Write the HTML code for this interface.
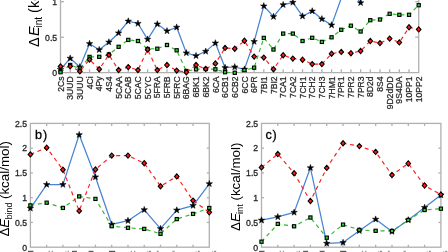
<!DOCTYPE html>
<html><head><meta charset="utf-8"><title>figure</title>
<style>html,body{margin:0;padding:0;background:#fff;}body{width:448px;height:252px;overflow:hidden;}svg{display:block;filter:blur(0.3px);}</style>
</head><body>
<svg width="448" height="252" viewBox="0 0 448 252">
<defs><clipPath id="ca"><rect x="60.50" y="-100" width="358.20" height="172.70"/></clipPath><clipPath id="cb"><rect x="30.40" y="123.40" width="178.90" height="123.80"/></clipPath><clipPath id="cc"><rect x="261.50" y="123.40" width="179.40" height="123.80"/></clipPath></defs>
<rect width="448" height="252" fill="#fff"/>
<g stroke="#b0b0b0" stroke-width="1.3" fill="none">
<line x1="60.50" y1="-5" x2="60.50" y2="72.70"/>
<line x1="418.70" y1="-5" x2="418.70" y2="72.70"/>
<line x1="60.00" y1="72.70" x2="419.20" y2="72.70"/>
<line x1="70.18" y1="72.70" x2="70.18" y2="69.20"/>
<line x1="79.86" y1="72.70" x2="79.86" y2="69.20"/>
<line x1="89.54" y1="72.70" x2="89.54" y2="69.20"/>
<line x1="99.22" y1="72.70" x2="99.22" y2="69.20"/>
<line x1="108.91" y1="72.70" x2="108.91" y2="69.20"/>
<line x1="118.59" y1="72.70" x2="118.59" y2="69.20"/>
<line x1="128.27" y1="72.70" x2="128.27" y2="69.20"/>
<line x1="137.95" y1="72.70" x2="137.95" y2="69.20"/>
<line x1="147.63" y1="72.70" x2="147.63" y2="69.20"/>
<line x1="157.31" y1="72.70" x2="157.31" y2="69.20"/>
<line x1="166.99" y1="72.70" x2="166.99" y2="69.20"/>
<line x1="176.67" y1="72.70" x2="176.67" y2="69.20"/>
<line x1="186.35" y1="72.70" x2="186.35" y2="69.20"/>
<line x1="196.04" y1="72.70" x2="196.04" y2="69.20"/>
<line x1="205.72" y1="72.70" x2="205.72" y2="69.20"/>
<line x1="215.40" y1="72.70" x2="215.40" y2="69.20"/>
<line x1="225.08" y1="72.70" x2="225.08" y2="69.20"/>
<line x1="234.76" y1="72.70" x2="234.76" y2="69.20"/>
<line x1="244.44" y1="72.70" x2="244.44" y2="69.20"/>
<line x1="254.12" y1="72.70" x2="254.12" y2="69.20"/>
<line x1="263.80" y1="72.70" x2="263.80" y2="69.20"/>
<line x1="273.48" y1="72.70" x2="273.48" y2="69.20"/>
<line x1="283.16" y1="72.70" x2="283.16" y2="69.20"/>
<line x1="292.85" y1="72.70" x2="292.85" y2="69.20"/>
<line x1="302.53" y1="72.70" x2="302.53" y2="69.20"/>
<line x1="312.21" y1="72.70" x2="312.21" y2="69.20"/>
<line x1="321.89" y1="72.70" x2="321.89" y2="69.20"/>
<line x1="331.57" y1="72.70" x2="331.57" y2="69.20"/>
<line x1="341.25" y1="72.70" x2="341.25" y2="69.20"/>
<line x1="350.93" y1="72.70" x2="350.93" y2="69.20"/>
<line x1="360.61" y1="72.70" x2="360.61" y2="69.20"/>
<line x1="370.29" y1="72.70" x2="370.29" y2="69.20"/>
<line x1="379.98" y1="72.70" x2="379.98" y2="69.20"/>
<line x1="389.66" y1="72.70" x2="389.66" y2="69.20"/>
<line x1="399.34" y1="72.70" x2="399.34" y2="69.20"/>
<line x1="409.02" y1="72.70" x2="409.02" y2="69.20"/>
<line x1="60.50" y1="37.20" x2="64.00" y2="37.20"/>
<line x1="418.70" y1="37.20" x2="415.20" y2="37.20"/>
<line x1="60.50" y1="1.70" x2="64.00" y2="1.70"/>
<line x1="418.70" y1="1.70" x2="415.20" y2="1.70"/>
</g>
<g stroke="#b0b0b0" stroke-width="1.3" fill="none">
<rect x="30.40" y="123.40" width="178.90" height="123.80"/>
<line x1="46.66" y1="247.20" x2="46.66" y2="244.70"/>
<line x1="46.66" y1="123.40" x2="46.66" y2="125.90"/>
<line x1="62.93" y1="247.20" x2="62.93" y2="244.70"/>
<line x1="62.93" y1="123.40" x2="62.93" y2="125.90"/>
<line x1="79.19" y1="247.20" x2="79.19" y2="244.70"/>
<line x1="79.19" y1="123.40" x2="79.19" y2="125.90"/>
<line x1="95.45" y1="247.20" x2="95.45" y2="244.70"/>
<line x1="95.45" y1="123.40" x2="95.45" y2="125.90"/>
<line x1="111.72" y1="247.20" x2="111.72" y2="244.70"/>
<line x1="111.72" y1="123.40" x2="111.72" y2="125.90"/>
<line x1="127.98" y1="247.20" x2="127.98" y2="244.70"/>
<line x1="127.98" y1="123.40" x2="127.98" y2="125.90"/>
<line x1="144.25" y1="247.20" x2="144.25" y2="244.70"/>
<line x1="144.25" y1="123.40" x2="144.25" y2="125.90"/>
<line x1="160.51" y1="247.20" x2="160.51" y2="244.70"/>
<line x1="160.51" y1="123.40" x2="160.51" y2="125.90"/>
<line x1="176.77" y1="247.20" x2="176.77" y2="244.70"/>
<line x1="176.77" y1="123.40" x2="176.77" y2="125.90"/>
<line x1="193.04" y1="247.20" x2="193.04" y2="244.70"/>
<line x1="193.04" y1="123.40" x2="193.04" y2="125.90"/>
<line x1="30.40" y1="222.44" x2="32.90" y2="222.44"/>
<line x1="209.30" y1="222.44" x2="206.80" y2="222.44"/>
<line x1="30.40" y1="197.68" x2="32.90" y2="197.68"/>
<line x1="209.30" y1="197.68" x2="206.80" y2="197.68"/>
<line x1="30.40" y1="172.92" x2="32.90" y2="172.92"/>
<line x1="209.30" y1="172.92" x2="206.80" y2="172.92"/>
<line x1="30.40" y1="148.16" x2="32.90" y2="148.16"/>
<line x1="209.30" y1="148.16" x2="206.80" y2="148.16"/>
</g>
<g stroke="#b0b0b0" stroke-width="1.3" fill="none">
<rect x="261.50" y="123.40" width="179.40" height="123.80"/>
<line x1="277.81" y1="247.20" x2="277.81" y2="244.70"/>
<line x1="277.81" y1="123.40" x2="277.81" y2="125.90"/>
<line x1="294.12" y1="247.20" x2="294.12" y2="244.70"/>
<line x1="294.12" y1="123.40" x2="294.12" y2="125.90"/>
<line x1="310.43" y1="247.20" x2="310.43" y2="244.70"/>
<line x1="310.43" y1="123.40" x2="310.43" y2="125.90"/>
<line x1="326.74" y1="247.20" x2="326.74" y2="244.70"/>
<line x1="326.74" y1="123.40" x2="326.74" y2="125.90"/>
<line x1="343.05" y1="247.20" x2="343.05" y2="244.70"/>
<line x1="343.05" y1="123.40" x2="343.05" y2="125.90"/>
<line x1="359.35" y1="247.20" x2="359.35" y2="244.70"/>
<line x1="359.35" y1="123.40" x2="359.35" y2="125.90"/>
<line x1="375.66" y1="247.20" x2="375.66" y2="244.70"/>
<line x1="375.66" y1="123.40" x2="375.66" y2="125.90"/>
<line x1="391.97" y1="247.20" x2="391.97" y2="244.70"/>
<line x1="391.97" y1="123.40" x2="391.97" y2="125.90"/>
<line x1="408.28" y1="247.20" x2="408.28" y2="244.70"/>
<line x1="408.28" y1="123.40" x2="408.28" y2="125.90"/>
<line x1="424.59" y1="247.20" x2="424.59" y2="244.70"/>
<line x1="424.59" y1="123.40" x2="424.59" y2="125.90"/>
<line x1="261.50" y1="222.44" x2="264.00" y2="222.44"/>
<line x1="440.90" y1="222.44" x2="438.40" y2="222.44"/>
<line x1="261.50" y1="197.68" x2="264.00" y2="197.68"/>
<line x1="440.90" y1="197.68" x2="438.40" y2="197.68"/>
<line x1="261.50" y1="172.92" x2="264.00" y2="172.92"/>
<line x1="440.90" y1="172.92" x2="438.40" y2="172.92"/>
<line x1="261.50" y1="148.16" x2="264.00" y2="148.16"/>
<line x1="440.90" y1="148.16" x2="438.40" y2="148.16"/>
</g>
<g font-family="'Liberation Sans', Arial, Helvetica, sans-serif" font-size="8.7" fill="#262626" stroke="#262626" stroke-width="0.3" text-anchor="end">
<text x="57.20" y="76.30">0</text>
<text x="57.20" y="40.80">0.5</text>
<text x="57.20" y="5.30">1</text>
<text x="27.10" y="250.50">0</text>
<text x="27.10" y="225.74">0.5</text>
<text x="27.10" y="200.98">1</text>
<text x="27.10" y="176.22">1.5</text>
<text x="27.10" y="151.46">2</text>
<text x="27.10" y="126.70">2.5</text>
<text x="258.20" y="250.50">0</text>
<text x="258.20" y="225.74">0.5</text>
<text x="258.20" y="200.98">1</text>
<text x="258.20" y="176.22">1.5</text>
<text x="258.20" y="151.46">2</text>
<text x="258.20" y="126.70">2.5</text>
</g>
<g font-family="'Liberation Sans', Arial, Helvetica, sans-serif" font-size="8.6" fill="#262626" stroke="#262626" stroke-width="0.25" text-anchor="end">
<text transform="translate(63.60,76.40) rotate(-90)">2Cs</text>
<text transform="translate(73.28,76.40) rotate(-90)">3UUD</text>
<text transform="translate(82.96,76.40) rotate(-90)">3UUU</text>
<text transform="translate(92.64,76.40) rotate(-90)">4Ci</text>
<text transform="translate(102.32,76.40) rotate(-90)">4Py</text>
<text transform="translate(112.01,76.40) rotate(-90)">4S4</text>
<text transform="translate(121.69,76.40) rotate(-90)">5CAA</text>
<text transform="translate(131.37,76.40) rotate(-90)">5CAB</text>
<text transform="translate(141.05,76.40) rotate(-90)">5CAC</text>
<text transform="translate(150.73,76.40) rotate(-90)">5CYC</text>
<text transform="translate(160.41,76.40) rotate(-90)">5FRA</text>
<text transform="translate(170.09,76.40) rotate(-90)">5FRB</text>
<text transform="translate(179.77,76.40) rotate(-90)">5FRC</text>
<text transform="translate(189.45,76.40) rotate(-90)">6BAG</text>
<text transform="translate(199.14,76.40) rotate(-90)">6BK1</text>
<text transform="translate(208.82,76.40) rotate(-90)">6BK2</text>
<text transform="translate(218.50,76.40) rotate(-90)">6CA</text>
<text transform="translate(228.18,76.40) rotate(-90)">6CB1</text>
<text transform="translate(237.86,76.40) rotate(-90)">6CB2</text>
<text transform="translate(247.54,76.40) rotate(-90)">6CC</text>
<text transform="translate(257.22,76.40) rotate(-90)">6PR</text>
<text transform="translate(266.90,76.40) rotate(-90)">7BI1</text>
<text transform="translate(276.58,76.40) rotate(-90)">7BI2</text>
<text transform="translate(286.26,76.40) rotate(-90)">7CA1</text>
<text transform="translate(295.95,76.40) rotate(-90)">7CA2</text>
<text transform="translate(305.63,76.40) rotate(-90)">7CH1</text>
<text transform="translate(315.31,76.40) rotate(-90)">7CH2</text>
<text transform="translate(324.99,76.40) rotate(-90)">7CH3</text>
<text transform="translate(334.67,76.40) rotate(-90)">7HM1</text>
<text transform="translate(344.35,76.40) rotate(-90)">7PR1</text>
<text transform="translate(354.03,76.40) rotate(-90)">7PR2</text>
<text transform="translate(363.71,76.40) rotate(-90)">7PR3</text>
<text transform="translate(373.39,76.40) rotate(-90)">8D2d</text>
<text transform="translate(383.08,76.40) rotate(-90)">8S4</text>
<text transform="translate(392.76,76.40) rotate(-90)">9D2dDD</text>
<text transform="translate(402.44,76.40) rotate(-90)">9S4DA</text>
<text transform="translate(412.12,76.40) rotate(-90)">10PP1</text>
<text transform="translate(421.80,76.40) rotate(-90)">10PP2</text>
</g>
<text font-family="'Liberation Sans', Arial, Helvetica, sans-serif" font-size="14.5" fill="#000" transform="translate(38.70,46.90) rotate(-90)">&#916;<tspan font-style="italic" dx="1.3">E</tspan><tspan font-size="10" dx="-1.3" dy="3">int</tspan><tspan dx="0" dy="-3"> (kcal/mol)</tspan></text>
<text font-family="'Liberation Sans', Arial, Helvetica, sans-serif" font-size="13.4" fill="#000" transform="translate(8.70,236.60) rotate(-90)">&#916;<tspan font-style="italic" dx="0">E</tspan><tspan font-size="8.7" dx="-0.5" dy="2.8">bind</tspan><tspan dx="0" dy="-2.8"> (kcal/mol)</tspan></text>
<text font-family="'Liberation Sans', Arial, Helvetica, sans-serif" font-size="13.4" fill="#000" transform="translate(240.40,231.00) rotate(-90)">&#916;<tspan font-style="italic" dx="0">E</tspan><tspan font-size="9.2" dx="-0.9" dy="2.8">int</tspan><tspan dx="0" dy="-2.8"> (kcal/mol)</tspan></text>
<text font-family="'Liberation Sans', Arial, Helvetica, sans-serif" font-size="12.6" fill="#000" stroke="#000" stroke-width="0.3" x="35.1" y="138.9" letter-spacing="0.8">b)</text>
<text font-family="'Liberation Sans', Arial, Helvetica, sans-serif" font-size="12.6" fill="#000" stroke="#000" stroke-width="0.3" x="265.4" y="139.1" letter-spacing="0.8">c)</text>
<g clip-path="url(#ca)">
<polyline fill="none" stroke="#4784d4" stroke-width="1.25" stroke-linejoin="round" points="60.50,69.50 70.18,58.30 79.86,67.00 89.54,43.70 99.22,49.80 108.91,42.20 118.59,33.00 128.27,21.20 137.95,23.50 147.63,39.30 157.31,24.10 166.99,31.00 176.67,27.30 186.35,53.00 196.04,55.80 205.72,51.40 215.40,43.10 225.08,67.70 234.76,67.00 244.44,69.30 254.12,41.60 263.80,6.00 273.48,16.70 283.16,4.80 292.85,2.40 302.53,16.20 312.21,11.10 321.89,19.00 331.57,25.10 341.25,-1.70 350.93,-9.30 360.61,2.80 370.29,-40.00 379.98,-45.00 389.66,-50.00 399.34,-50.00 409.02,-55.00 418.70,-60.00"/>
</g>
<g fill="#000" stroke="#000" stroke-width="0.5" stroke-linejoin="miter">
<polygon points="60.50,66.10 61.29,68.41 63.73,68.45 61.78,69.92 62.50,72.25 60.50,70.85 58.50,72.25 59.22,69.92 57.27,68.45 59.71,68.41"/>
<polygon points="70.18,54.90 70.97,57.21 73.41,57.25 71.47,58.72 72.18,61.05 70.18,59.65 68.18,61.05 68.90,58.72 66.95,57.25 69.39,57.21"/>
<polygon points="79.86,63.60 80.66,65.91 83.10,65.95 81.15,67.42 81.86,69.75 79.86,68.35 77.86,69.75 78.58,67.42 76.63,65.95 79.07,65.91"/>
<polygon points="89.54,40.30 90.34,42.61 92.78,42.65 90.83,44.12 91.54,46.45 89.54,45.05 87.54,46.45 88.26,44.12 86.31,42.65 88.75,42.61"/>
<polygon points="99.22,46.40 100.02,48.71 102.46,48.75 100.51,50.22 101.22,52.55 99.22,51.15 97.23,52.55 97.94,50.22 95.99,48.75 98.43,48.71"/>
<polygon points="108.91,38.80 109.70,41.11 112.14,41.15 110.19,42.62 110.90,44.95 108.91,43.55 106.91,44.95 107.62,42.62 105.67,41.15 108.11,41.11"/>
<polygon points="118.59,29.60 119.38,31.91 121.82,31.95 119.87,33.42 120.58,35.75 118.59,34.35 116.59,35.75 117.30,33.42 115.35,31.95 117.79,31.91"/>
<polygon points="128.27,17.80 129.06,20.11 131.50,20.15 129.55,21.62 130.27,23.95 128.27,22.55 126.27,23.95 126.98,21.62 125.03,20.15 127.47,20.11"/>
<polygon points="137.95,20.10 138.74,22.41 141.18,22.45 139.23,23.92 139.95,26.25 137.95,24.85 135.95,26.25 136.66,23.92 134.72,22.45 137.16,22.41"/>
<polygon points="147.63,35.90 148.42,38.21 150.86,38.25 148.91,39.72 149.63,42.05 147.63,40.65 145.63,42.05 146.35,39.72 144.40,38.25 146.84,38.21"/>
<polygon points="157.31,20.70 158.10,23.01 160.54,23.05 158.59,24.52 159.31,26.85 157.31,25.45 155.31,26.85 156.03,24.52 154.08,23.05 156.52,23.01"/>
<polygon points="166.99,27.60 167.79,29.91 170.23,29.95 168.28,31.42 168.99,33.75 166.99,32.35 164.99,33.75 165.71,31.42 163.76,29.95 166.20,29.91"/>
<polygon points="176.67,23.90 177.47,26.21 179.91,26.25 177.96,27.72 178.67,30.05 176.67,28.65 174.67,30.05 175.39,27.72 173.44,26.25 175.88,26.21"/>
<polygon points="186.35,49.60 187.15,51.91 189.59,51.95 187.64,53.42 188.35,55.75 186.35,54.35 184.36,55.75 185.07,53.42 183.12,51.95 185.56,51.91"/>
<polygon points="196.04,52.40 196.83,54.71 199.27,54.75 197.32,56.22 198.03,58.55 196.04,57.15 194.04,58.55 194.75,56.22 192.80,54.75 195.24,54.71"/>
<polygon points="205.72,48.00 206.51,50.31 208.95,50.35 207.00,51.82 207.71,54.15 205.72,52.75 203.72,54.15 204.43,51.82 202.48,50.35 204.92,50.31"/>
<polygon points="215.40,39.70 216.19,42.01 218.63,42.05 216.68,43.52 217.40,45.85 215.40,44.45 213.40,45.85 214.11,43.52 212.16,42.05 214.60,42.01"/>
<polygon points="225.08,64.30 225.87,66.61 228.31,66.65 226.36,68.12 227.08,70.45 225.08,69.05 223.08,70.45 223.79,68.12 221.84,66.65 224.28,66.61"/>
<polygon points="234.76,63.60 235.55,65.91 237.99,65.95 236.04,67.42 236.76,69.75 234.76,68.35 232.76,69.75 233.48,67.42 231.53,65.95 233.97,65.91"/>
<polygon points="244.44,65.90 245.23,68.21 247.67,68.25 245.72,69.72 246.44,72.05 244.44,70.65 242.44,72.05 243.16,69.72 241.21,68.25 243.65,68.21"/>
<polygon points="254.12,38.20 254.92,40.51 257.36,40.55 255.41,42.02 256.12,44.35 254.12,42.95 252.12,44.35 252.84,42.02 250.89,40.55 253.33,40.51"/>
<polygon points="263.80,2.60 264.60,4.91 267.04,4.95 265.09,6.42 265.80,8.75 263.80,7.35 261.80,8.75 262.52,6.42 260.57,4.95 263.01,4.91"/>
<polygon points="273.48,13.30 274.28,15.61 276.72,15.65 274.77,17.12 275.48,19.45 273.48,18.05 271.49,19.45 272.20,17.12 270.25,15.65 272.69,15.61"/>
<polygon points="283.16,1.40 283.96,3.71 286.40,3.75 284.45,5.22 285.16,7.55 283.16,6.15 281.17,7.55 281.88,5.22 279.93,3.75 282.37,3.71"/>
<polygon points="292.85,-1.00 293.64,1.31 296.08,1.35 294.13,2.82 294.84,5.15 292.85,3.75 290.85,5.15 291.56,2.82 289.61,1.35 292.05,1.31"/>
<polygon points="302.53,12.80 303.32,15.11 305.76,15.15 303.81,16.62 304.53,18.95 302.53,17.55 300.53,18.95 301.24,16.62 299.29,15.15 301.73,15.11"/>
<polygon points="312.21,7.70 313.00,10.01 315.44,10.05 313.49,11.52 314.21,13.85 312.21,12.45 310.21,13.85 310.92,11.52 308.97,10.05 311.41,10.01"/>
<polygon points="321.89,15.60 322.68,17.91 325.12,17.95 323.17,19.42 323.89,21.75 321.89,20.35 319.89,21.75 320.61,19.42 318.66,17.95 321.10,17.91"/>
<polygon points="331.57,21.70 332.36,24.01 334.80,24.05 332.85,25.52 333.57,27.85 331.57,26.45 329.57,27.85 330.29,25.52 328.34,24.05 330.78,24.01"/>
<polygon points="360.61,-0.60 361.41,1.71 363.85,1.75 361.90,3.22 362.61,5.55 360.61,4.15 358.62,5.55 359.33,3.22 357.38,1.75 359.82,1.71"/>
</g>
<polyline fill="none" stroke="#2fb52f" stroke-width="1.15" stroke-dasharray="4 3.6" points="60.50,72.20 70.18,65.00 79.86,68.50 89.54,56.90 99.22,56.80 108.91,54.50 118.59,46.80 128.27,39.90 137.95,41.00 147.63,49.00 157.31,48.70 166.99,45.00 176.67,50.30 186.35,71.00 196.04,69.30 205.72,69.00 215.40,69.30 225.08,72.20 234.76,72.80 244.44,70.10 254.12,67.70 263.80,37.90 273.48,49.50 283.16,33.60 292.85,33.60 302.53,41.00 312.21,37.80 321.89,41.90 331.57,37.30 341.25,29.80 350.93,25.70 360.61,31.50 370.29,20.20 379.98,19.50 389.66,13.80 399.34,14.80 409.02,14.80 418.70,5.20"/>
<g fill="#2ed22e" stroke="#000" stroke-width="1.1">
<rect x="58.90" y="70.60" width="3.20" height="3.20"/>
<rect x="68.58" y="63.40" width="3.20" height="3.20"/>
<rect x="78.26" y="66.90" width="3.20" height="3.20"/>
<rect x="87.94" y="55.30" width="3.20" height="3.20"/>
<rect x="97.62" y="55.20" width="3.20" height="3.20"/>
<rect x="107.31" y="52.90" width="3.20" height="3.20"/>
<rect x="116.99" y="45.20" width="3.20" height="3.20"/>
<rect x="126.67" y="38.30" width="3.20" height="3.20"/>
<rect x="136.35" y="39.40" width="3.20" height="3.20"/>
<rect x="146.03" y="47.40" width="3.20" height="3.20"/>
<rect x="155.71" y="47.10" width="3.20" height="3.20"/>
<rect x="165.39" y="43.40" width="3.20" height="3.20"/>
<rect x="175.07" y="48.70" width="3.20" height="3.20"/>
<rect x="184.75" y="69.40" width="3.20" height="3.20"/>
<rect x="194.44" y="67.70" width="3.20" height="3.20"/>
<rect x="204.12" y="67.40" width="3.20" height="3.20"/>
<rect x="213.80" y="67.70" width="3.20" height="3.20"/>
<rect x="223.48" y="70.60" width="3.20" height="3.20"/>
<rect x="233.16" y="71.20" width="3.20" height="3.20"/>
<rect x="242.84" y="68.50" width="3.20" height="3.20"/>
<rect x="252.52" y="66.10" width="3.20" height="3.20"/>
<rect x="262.20" y="36.30" width="3.20" height="3.20"/>
<rect x="271.88" y="47.90" width="3.20" height="3.20"/>
<rect x="281.56" y="32.00" width="3.20" height="3.20"/>
<rect x="291.25" y="32.00" width="3.20" height="3.20"/>
<rect x="300.93" y="39.40" width="3.20" height="3.20"/>
<rect x="310.61" y="36.20" width="3.20" height="3.20"/>
<rect x="320.29" y="40.30" width="3.20" height="3.20"/>
<rect x="329.97" y="35.70" width="3.20" height="3.20"/>
<rect x="339.65" y="28.20" width="3.20" height="3.20"/>
<rect x="349.33" y="24.10" width="3.20" height="3.20"/>
<rect x="359.01" y="29.90" width="3.20" height="3.20"/>
<rect x="368.69" y="18.60" width="3.20" height="3.20"/>
<rect x="378.38" y="17.90" width="3.20" height="3.20"/>
<rect x="388.06" y="12.20" width="3.20" height="3.20"/>
<rect x="397.74" y="13.20" width="3.20" height="3.20"/>
<rect x="407.42" y="13.20" width="3.20" height="3.20"/>
<rect x="417.10" y="3.60" width="3.20" height="3.20"/>
</g>
<polyline fill="none" stroke="#ff1a1a" stroke-width="1.15" stroke-dasharray="4 3.6" points="60.50,66.40 70.18,66.30 79.86,71.30 89.54,59.60 99.22,69.20 108.91,54.90 118.59,70.00 128.27,67.10 137.95,70.10 147.63,49.50 157.31,70.10 166.99,65.00 176.67,70.60 186.35,72.20 196.04,65.00 205.72,68.90 215.40,63.50 225.08,47.90 234.76,48.70 244.44,40.80 254.12,56.60 263.80,57.60 273.48,69.20 283.16,55.20 292.85,58.60 302.53,59.70 312.21,64.10 321.89,64.10 331.57,53.70 341.25,51.90 350.93,53.20 360.61,51.00 370.29,41.00 379.98,43.10 389.66,38.60 399.34,42.40 409.02,27.30 418.70,29.40"/>
<g fill="#ff1a1a" stroke="#000" stroke-width="1.1">
<polygon points="60.50,63.80 62.80,66.40 60.50,69.00 58.20,66.40"/>
<polygon points="70.18,63.70 72.48,66.30 70.18,68.90 67.88,66.30"/>
<polygon points="79.86,68.70 82.16,71.30 79.86,73.90 77.56,71.30"/>
<polygon points="89.54,57.00 91.84,59.60 89.54,62.20 87.24,59.60"/>
<polygon points="99.22,66.60 101.52,69.20 99.22,71.80 96.92,69.20"/>
<polygon points="108.91,52.30 111.21,54.90 108.91,57.50 106.61,54.90"/>
<polygon points="118.59,67.40 120.89,70.00 118.59,72.60 116.29,70.00"/>
<polygon points="128.27,64.50 130.57,67.10 128.27,69.70 125.97,67.10"/>
<polygon points="137.95,67.50 140.25,70.10 137.95,72.70 135.65,70.10"/>
<polygon points="147.63,46.90 149.93,49.50 147.63,52.10 145.33,49.50"/>
<polygon points="157.31,67.50 159.61,70.10 157.31,72.70 155.01,70.10"/>
<polygon points="166.99,62.40 169.29,65.00 166.99,67.60 164.69,65.00"/>
<polygon points="176.67,68.00 178.97,70.60 176.67,73.20 174.37,70.60"/>
<polygon points="186.35,69.60 188.65,72.20 186.35,74.80 184.05,72.20"/>
<polygon points="196.04,62.40 198.34,65.00 196.04,67.60 193.74,65.00"/>
<polygon points="205.72,66.30 208.02,68.90 205.72,71.50 203.42,68.90"/>
<polygon points="215.40,60.90 217.70,63.50 215.40,66.10 213.10,63.50"/>
<polygon points="225.08,45.30 227.38,47.90 225.08,50.50 222.78,47.90"/>
<polygon points="234.76,46.10 237.06,48.70 234.76,51.30 232.46,48.70"/>
<polygon points="244.44,38.20 246.74,40.80 244.44,43.40 242.14,40.80"/>
<polygon points="254.12,54.00 256.42,56.60 254.12,59.20 251.82,56.60"/>
<polygon points="263.80,55.00 266.10,57.60 263.80,60.20 261.50,57.60"/>
<polygon points="273.48,66.60 275.78,69.20 273.48,71.80 271.18,69.20"/>
<polygon points="283.16,52.60 285.46,55.20 283.16,57.80 280.86,55.20"/>
<polygon points="292.85,56.00 295.15,58.60 292.85,61.20 290.55,58.60"/>
<polygon points="302.53,57.10 304.83,59.70 302.53,62.30 300.23,59.70"/>
<polygon points="312.21,61.50 314.51,64.10 312.21,66.70 309.91,64.10"/>
<polygon points="321.89,61.50 324.19,64.10 321.89,66.70 319.59,64.10"/>
<polygon points="331.57,51.10 333.87,53.70 331.57,56.30 329.27,53.70"/>
<polygon points="341.25,49.30 343.55,51.90 341.25,54.50 338.95,51.90"/>
<polygon points="350.93,50.60 353.23,53.20 350.93,55.80 348.63,53.20"/>
<polygon points="360.61,48.40 362.91,51.00 360.61,53.60 358.31,51.00"/>
<polygon points="370.29,38.40 372.59,41.00 370.29,43.60 367.99,41.00"/>
<polygon points="379.98,40.50 382.28,43.10 379.98,45.70 377.68,43.10"/>
<polygon points="389.66,36.00 391.96,38.60 389.66,41.20 387.36,38.60"/>
<polygon points="399.34,39.80 401.64,42.40 399.34,45.00 397.04,42.40"/>
<polygon points="409.02,24.70 411.32,27.30 409.02,29.90 406.72,27.30"/>
<polygon points="418.70,26.80 421.00,29.40 418.70,32.00 416.40,29.40"/>
</g>
<g clip-path="url(#cb)">
<polyline fill="none" stroke="#4784d4" stroke-width="1.25" stroke-linejoin="round" points="30.40,208.30 46.66,184.60 62.93,184.60 79.19,134.80 95.45,177.00 111.72,224.30 127.98,220.70 144.25,209.80 160.51,228.70 176.77,210.20 193.04,205.60 209.30,183.80"/>
</g>
<g fill="#000" stroke="#000" stroke-width="0.5" stroke-linejoin="miter">
<polygon points="30.40,204.90 31.19,207.21 33.63,207.25 31.68,208.72 32.40,211.05 30.40,209.65 28.40,211.05 29.12,208.72 27.17,207.25 29.61,207.21"/>
<polygon points="46.66,181.20 47.46,183.51 49.90,183.55 47.95,185.02 48.66,187.35 46.66,185.95 44.67,187.35 45.38,185.02 43.43,183.55 45.87,183.51"/>
<polygon points="62.93,181.20 63.72,183.51 66.16,183.55 64.21,185.02 64.93,187.35 62.93,185.95 60.93,187.35 61.64,185.02 59.69,183.55 62.13,183.51"/>
<polygon points="79.19,131.40 79.98,133.71 82.42,133.75 80.47,135.22 81.19,137.55 79.19,136.15 77.19,137.55 77.91,135.22 75.96,133.75 78.40,133.71"/>
<polygon points="95.45,173.60 96.25,175.91 98.69,175.95 96.74,177.42 97.45,179.75 95.45,178.35 93.46,179.75 94.17,177.42 92.22,175.95 94.66,175.91"/>
<polygon points="111.72,220.90 112.51,223.21 114.95,223.25 113.00,224.72 113.72,227.05 111.72,225.65 109.72,227.05 110.43,224.72 108.48,223.25 110.92,223.21"/>
<polygon points="127.98,217.30 128.78,219.61 131.22,219.65 129.27,221.12 129.98,223.45 127.98,222.05 125.98,223.45 126.70,221.12 124.75,219.65 127.19,219.61"/>
<polygon points="144.25,206.40 145.04,208.71 147.48,208.75 145.53,210.22 146.24,212.55 144.25,211.15 142.25,212.55 142.96,210.22 141.01,208.75 143.45,208.71"/>
<polygon points="160.51,225.30 161.30,227.61 163.74,227.65 161.79,229.12 162.51,231.45 160.51,230.05 158.51,231.45 159.23,229.12 157.28,227.65 159.72,227.61"/>
<polygon points="176.77,206.80 177.57,209.11 180.01,209.15 178.06,210.62 178.77,212.95 176.77,211.55 174.77,212.95 175.49,210.62 173.54,209.15 175.98,209.11"/>
<polygon points="193.04,202.20 193.83,204.51 196.27,204.55 194.32,206.02 195.03,208.35 193.04,206.95 191.04,208.35 191.75,206.02 189.80,204.55 192.24,204.51"/>
<polygon points="209.30,180.40 210.09,182.71 212.53,182.75 210.58,184.22 211.30,186.55 209.30,185.15 207.30,186.55 208.02,184.22 206.07,182.75 208.51,182.71"/>
</g>
<polyline fill="none" stroke="#2fb52f" stroke-width="1.15" stroke-dasharray="4 3.6" points="30.40,205.40 46.66,202.70 62.93,207.90 79.19,196.40 95.45,198.90 111.72,226.20 127.98,227.80 144.25,228.90 160.51,233.80 176.77,219.10 193.04,213.90 209.30,208.00"/>
<g fill="#2ed22e" stroke="#000" stroke-width="1.1">
<rect x="28.80" y="203.80" width="3.20" height="3.20"/>
<rect x="45.06" y="201.10" width="3.20" height="3.20"/>
<rect x="61.33" y="206.30" width="3.20" height="3.20"/>
<rect x="77.59" y="194.80" width="3.20" height="3.20"/>
<rect x="93.85" y="197.30" width="3.20" height="3.20"/>
<rect x="110.12" y="224.60" width="3.20" height="3.20"/>
<rect x="126.38" y="226.20" width="3.20" height="3.20"/>
<rect x="142.65" y="227.30" width="3.20" height="3.20"/>
<rect x="158.91" y="232.20" width="3.20" height="3.20"/>
<rect x="175.17" y="217.50" width="3.20" height="3.20"/>
<rect x="191.44" y="212.30" width="3.20" height="3.20"/>
<rect x="207.70" y="206.40" width="3.20" height="3.20"/>
</g>
<polyline fill="none" stroke="#ff1a1a" stroke-width="1.15" stroke-dasharray="4 3.6" points="30.40,154.40 46.66,147.70 62.93,169.70 79.19,210.90 95.45,169.50 111.72,155.60 127.98,155.60 144.25,163.20 160.51,186.20 176.77,176.40 193.04,200.60 209.30,212.30"/>
<g fill="#ff1a1a" stroke="#000" stroke-width="1.1">
<polygon points="30.40,151.80 32.70,154.40 30.40,157.00 28.10,154.40"/>
<polygon points="46.66,145.10 48.96,147.70 46.66,150.30 44.36,147.70"/>
<polygon points="62.93,167.10 65.23,169.70 62.93,172.30 60.63,169.70"/>
<polygon points="79.19,208.30 81.49,210.90 79.19,213.50 76.89,210.90"/>
<polygon points="95.45,166.90 97.75,169.50 95.45,172.10 93.15,169.50"/>
<polygon points="111.72,153.00 114.02,155.60 111.72,158.20 109.42,155.60"/>
<polygon points="127.98,153.00 130.28,155.60 127.98,158.20 125.68,155.60"/>
<polygon points="144.25,160.60 146.55,163.20 144.25,165.80 141.95,163.20"/>
<polygon points="160.51,183.60 162.81,186.20 160.51,188.80 158.21,186.20"/>
<polygon points="176.77,173.80 179.07,176.40 176.77,179.00 174.47,176.40"/>
<polygon points="193.04,198.00 195.34,200.60 193.04,203.20 190.74,200.60"/>
<polygon points="209.30,209.70 211.60,212.30 209.30,214.90 207.00,212.30"/>
</g>
<g clip-path="url(#cc)">
<polyline fill="none" stroke="#4784d4" stroke-width="1.25" stroke-linejoin="round" points="261.50,220.20 277.81,216.90 294.12,212.40 310.43,167.80 326.74,243.40 343.05,242.60 359.35,230.80 375.66,219.30 391.97,231.60 408.28,220.00 424.59,207.60 440.90,195.00"/>
</g>
<g fill="#000" stroke="#000" stroke-width="0.5" stroke-linejoin="miter">
<polygon points="261.50,216.80 262.29,219.11 264.73,219.15 262.78,220.62 263.50,222.95 261.50,221.55 259.50,222.95 260.22,220.62 258.27,219.15 260.71,219.11"/>
<polygon points="277.81,213.50 278.60,215.81 281.04,215.85 279.09,217.32 279.81,219.65 277.81,218.25 275.81,219.65 276.53,217.32 274.58,215.85 277.02,215.81"/>
<polygon points="294.12,209.00 294.91,211.31 297.35,211.35 295.40,212.82 296.12,215.15 294.12,213.75 292.12,215.15 292.83,212.82 290.88,211.35 293.32,211.31"/>
<polygon points="310.43,164.40 311.22,166.71 313.66,166.75 311.71,168.22 312.43,170.55 310.43,169.15 308.43,170.55 309.14,168.22 307.19,166.75 309.63,166.71"/>
<polygon points="326.74,240.00 327.53,242.31 329.97,242.35 328.02,243.82 328.73,246.15 326.74,244.75 324.74,246.15 325.45,243.82 323.50,242.35 325.94,242.31"/>
<polygon points="343.05,239.20 343.84,241.51 346.28,241.55 344.33,243.02 345.04,245.35 343.05,243.95 341.05,245.35 341.76,243.02 339.81,241.55 342.25,241.51"/>
<polygon points="359.35,227.40 360.15,229.71 362.59,229.75 360.64,231.22 361.35,233.55 359.35,232.15 357.36,233.55 358.07,231.22 356.12,229.75 358.56,229.71"/>
<polygon points="375.66,215.90 376.46,218.21 378.90,218.25 376.95,219.72 377.66,222.05 375.66,220.65 373.67,222.05 374.38,219.72 372.43,218.25 374.87,218.21"/>
<polygon points="391.97,228.20 392.77,230.51 395.21,230.55 393.26,232.02 393.97,234.35 391.97,232.95 389.97,234.35 390.69,232.02 388.74,230.55 391.18,230.51"/>
<polygon points="408.28,216.60 409.08,218.91 411.52,218.95 409.57,220.42 410.28,222.75 408.28,221.35 406.28,222.75 407.00,220.42 405.05,218.95 407.49,218.91"/>
<polygon points="424.59,204.20 425.38,206.51 427.82,206.55 425.87,208.02 426.59,210.35 424.59,208.95 422.59,210.35 423.31,208.02 421.36,206.55 423.80,206.51"/>
<polygon points="440.90,191.60 441.69,193.91 444.13,193.95 442.18,195.42 442.90,197.75 440.90,196.35 438.90,197.75 439.62,195.42 437.67,193.95 440.11,193.91"/>
</g>
<polyline fill="none" stroke="#2fb52f" stroke-width="1.15" stroke-dasharray="4 3.6" points="261.50,241.70 277.81,223.90 294.12,226.30 310.43,217.50 326.74,237.70 343.05,224.60 359.35,229.90 375.66,230.80 391.97,231.00 408.28,220.00 424.59,210.00 440.90,208.70"/>
<g fill="#2ed22e" stroke="#000" stroke-width="1.1">
<rect x="259.90" y="240.10" width="3.20" height="3.20"/>
<rect x="276.21" y="222.30" width="3.20" height="3.20"/>
<rect x="292.52" y="224.70" width="3.20" height="3.20"/>
<rect x="308.83" y="215.90" width="3.20" height="3.20"/>
<rect x="325.14" y="236.10" width="3.20" height="3.20"/>
<rect x="341.45" y="223.00" width="3.20" height="3.20"/>
<rect x="357.75" y="228.30" width="3.20" height="3.20"/>
<rect x="374.06" y="229.20" width="3.20" height="3.20"/>
<rect x="390.37" y="229.40" width="3.20" height="3.20"/>
<rect x="406.68" y="218.40" width="3.20" height="3.20"/>
<rect x="422.99" y="208.40" width="3.20" height="3.20"/>
<rect x="439.30" y="207.10" width="3.20" height="3.20"/>
</g>
<polyline fill="none" stroke="#ff1a1a" stroke-width="1.15" stroke-dasharray="4 3.6" points="261.50,167.40 277.81,154.00 294.12,173.30 310.43,201.00 326.74,167.90 343.05,143.30 359.35,146.10 375.66,151.90 391.97,175.00 408.28,163.50 424.59,185.50 440.90,194.60"/>
<g fill="#ff1a1a" stroke="#000" stroke-width="1.1">
<polygon points="261.50,164.80 263.80,167.40 261.50,170.00 259.20,167.40"/>
<polygon points="277.81,151.40 280.11,154.00 277.81,156.60 275.51,154.00"/>
<polygon points="294.12,170.70 296.42,173.30 294.12,175.90 291.82,173.30"/>
<polygon points="310.43,198.40 312.73,201.00 310.43,203.60 308.13,201.00"/>
<polygon points="326.74,165.30 329.04,167.90 326.74,170.50 324.44,167.90"/>
<polygon points="343.05,140.70 345.35,143.30 343.05,145.90 340.75,143.30"/>
<polygon points="359.35,143.50 361.65,146.10 359.35,148.70 357.05,146.10"/>
<polygon points="375.66,149.30 377.96,151.90 375.66,154.50 373.36,151.90"/>
<polygon points="391.97,172.40 394.27,175.00 391.97,177.60 389.67,175.00"/>
<polygon points="408.28,160.90 410.58,163.50 408.28,166.10 405.98,163.50"/>
<polygon points="424.59,182.90 426.89,185.50 424.59,188.10 422.29,185.50"/>
<polygon points="440.90,192.00 443.20,194.60 440.90,197.20 438.60,194.60"/>
</g>
<g fill="#1a1a1a">
<rect x="28.00" y="250.8" width="5.40" height="1.2" fill-opacity="0.75"/>
<rect x="48.60" y="250.8" width="1.30" height="1.2" fill-opacity="0.45"/>
<rect x="51.70" y="250.8" width="1.30" height="1.2" fill-opacity="0.45"/>
<rect x="65.40" y="250.8" width="1.10" height="1.2" fill-opacity="0.30"/>
<rect x="67.60" y="250.8" width="1.30" height="1.2" fill-opacity="0.45"/>
<rect x="72.00" y="250.8" width="5.00" height="1.2" fill-opacity="0.70"/>
<rect x="88.60" y="250.8" width="4.90" height="1.2" fill-opacity="0.70"/>
<rect x="109.00" y="250.8" width="6.20" height="1.2" fill-opacity="0.75"/>
<rect x="130.80" y="250.8" width="1.20" height="1.2" fill-opacity="0.45"/>
<rect x="134.00" y="250.8" width="1.30" height="1.2" fill-opacity="0.45"/>
<rect x="147.00" y="250.8" width="0.80" height="1.2" fill-opacity="0.30"/>
<rect x="148.70" y="250.8" width="2.30" height="1.2" fill-opacity="0.50"/>
<rect x="156.80" y="250.8" width="1.80" height="1.2" fill-opacity="0.50"/>
<rect x="172.40" y="250.8" width="2.30" height="1.2" fill-opacity="0.45"/>
<rect x="195.70" y="250.8" width="0.80" height="1.2" fill-opacity="0.30"/>
<rect x="197.90" y="250.8" width="1.80" height="1.2" fill-opacity="0.50"/>
<rect x="212.10" y="250.8" width="1.00" height="1.2" fill-opacity="0.30"/>
<rect x="214.10" y="250.8" width="2.00" height="1.2" fill-opacity="0.50"/>
<rect x="259.10" y="250.8" width="5.40" height="1.2" fill-opacity="0.75"/>
<rect x="279.70" y="250.8" width="1.30" height="1.2" fill-opacity="0.45"/>
<rect x="282.80" y="250.8" width="1.30" height="1.2" fill-opacity="0.45"/>
<rect x="296.50" y="250.8" width="1.10" height="1.2" fill-opacity="0.30"/>
<rect x="298.70" y="250.8" width="1.30" height="1.2" fill-opacity="0.45"/>
<rect x="303.10" y="250.8" width="5.00" height="1.2" fill-opacity="0.70"/>
<rect x="319.70" y="250.8" width="4.90" height="1.2" fill-opacity="0.70"/>
<rect x="340.10" y="250.8" width="6.20" height="1.2" fill-opacity="0.75"/>
<rect x="361.90" y="250.8" width="1.20" height="1.2" fill-opacity="0.45"/>
<rect x="365.10" y="250.8" width="1.30" height="1.2" fill-opacity="0.45"/>
<rect x="378.10" y="250.8" width="0.80" height="1.2" fill-opacity="0.30"/>
<rect x="379.80" y="250.8" width="2.30" height="1.2" fill-opacity="0.50"/>
<rect x="387.90" y="250.8" width="1.80" height="1.2" fill-opacity="0.50"/>
<rect x="403.50" y="250.8" width="2.30" height="1.2" fill-opacity="0.45"/>
<rect x="426.80" y="250.8" width="0.80" height="1.2" fill-opacity="0.30"/>
<rect x="429.00" y="250.8" width="1.80" height="1.2" fill-opacity="0.50"/>
<rect x="443.20" y="250.8" width="1.00" height="1.2" fill-opacity="0.30"/>
<rect x="445.20" y="250.8" width="2.00" height="1.2" fill-opacity="0.50"/>
</g>
</svg>
</body></html>
